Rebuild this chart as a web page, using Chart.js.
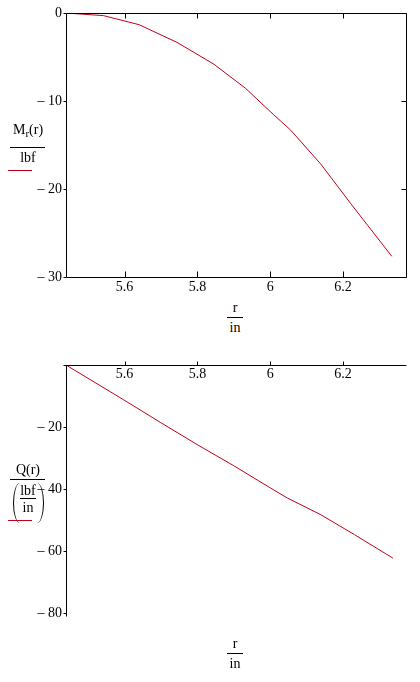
<!DOCTYPE html>
<html>
<head>
<meta charset="utf-8">
<script src="https://cdn.jsdelivr.net/npm/chart.js@4.4.1/dist/chart.umd.min.js"></script>
<style>
  html, body { margin: 0; padding: 0; background: #fff; }
  body { width: 420px; height: 682px; position: relative; overflow: hidden; font-family: "Liberation Serif", "DejaVu Serif", serif; font-size: 14px; color: #000; }
  canvas { position: absolute; left: 0; }
  #c1 { top: 0; }
  #c2 { top: 340px; }
  .bar { position: absolute; height: 1px; background: #000; }
  .red { position: absolute; height: 1px; background: #c0001a; }
  .t { position: absolute; white-space: nowrap; line-height: 1; }
  .pl { position: absolute; border-left: 1px solid #000; border-radius: 7px 0 0 7px / 20px 0 0 20px; }
  .pr { position: absolute; border-right: 1px solid #000; border-radius: 0 7px 7px 0 / 0 20px 20px 0; }
</style>
</head>
<body>
<canvas id="c1" width="420" height="300"></canvas>
<canvas id="c2" width="420" height="342"></canvas>

<!-- top y-axis title: Mr(r) / lbf -->
<div class="t" style="left:7px;top:123px;width:42px;text-align:center;">M<sub style="font-size:11px;vertical-align:-3px;line-height:0;">r</sub>(r)</div>
<div class="bar" style="left:10px;top:147px;width:35px;"></div>
<div class="t" style="left:7px;top:151px;width:42px;text-align:center;">lbf</div>
<div class="red" style="left:8px;top:170px;width:24px;"></div>

<!-- top x-axis title: r / in -->
<div class="t" style="left:225px;top:301px;width:20px;text-align:center;">r</div>
<div class="bar" style="left:227px;top:317px;width:16px;"></div>
<div class="t" style="left:225px;top:321px;width:20px;text-align:center;">in</div>

<!-- bottom y-axis title: Q(r) / (lbf/in) -->
<div class="t" style="left:7px;top:463px;width:42px;text-align:center;">Q(r)</div>
<div class="bar" style="left:10px;top:479px;width:35px;"></div>
<div class="pl" style="left:13px;top:483px;width:6px;height:40px;"></div>
<div class="pr" style="left:37px;top:483px;width:6px;height:40px;"></div>
<div class="t" style="left:18px;top:484px;width:20px;text-align:center;">lbf</div>
<div class="bar" style="left:20px;top:498px;width:16px;"></div>
<div class="t" style="left:18px;top:501px;width:20px;text-align:center;">in</div>
<div class="red" style="left:8px;top:520px;width:24px;"></div>

<!-- bottom x-axis title: r / in -->
<div class="t" style="left:225px;top:637px;width:20px;text-align:center;">r</div>
<div class="bar" style="left:227px;top:653px;width:16px;"></div>
<div class="t" style="left:225px;top:657px;width:20px;text-align:center;">in</div>

<script>
// ---- data ----
const rMoment = [5.439, 5.542, 5.640, 5.744, 5.845, 5.932, 6.010, 6.056, 6.139, 6.221, 6.334];
const moment  = [0, -0.3, -1.33, -3.34, -5.81, -8.55, -11.58, -13.3, -17.17, -21.65, -27.65];

const rShear  = [5.439, 5.597, 5.698, 5.804, 5.900, 6.001, 6.047, 6.139, 6.231, 6.337];
const shear   = [0, -11.2, -18.5, -26.0, -32.5, -39.7, -42.9, -48.3, -54.7, -62.3];

const xTicks = [5.6, 5.8, 6, 6.2];
const yTicksMoment = [0, -10, -20, -30];
const yTicksShear = [-20, -40, -60, -80];

// ---- helpers ----
const FONT = { family: '"Liberation Serif", "DejaVu Serif", serif', size: 14 };
const LINE_COLOR = '#c0001a';

function fmt(v) {
  if (v === 0) return '0';
  const s = String(Math.round(Math.abs(v) * 10) / 10);
  return v < 0 ? '\u2013 ' + s : s;
}

const framePlugin = {
  id: 'mathcadFrame',
  afterDraw(chart, args, opts) {
    const ctx = chart.ctx;
    const a = chart.chartArea;
    const xs = chart.scales.x, ys = chart.scales.y;
    ctx.save();
    ctx.strokeStyle = '#000';
    ctx.lineWidth = 1;
    ctx.beginPath();
    const px = v => Math.round(v) + 0.5;
    if (opts.mode === 'box') {
      const L = px(a.left), R = px(a.right), T = px(a.top), B = px(a.bottom);
      ctx.rect(L, T, R - L, B - T);
      xs.ticks.forEach(t => {
        const x = px(xs.getPixelForValue(t.value));
        ctx.moveTo(x, B); ctx.lineTo(x, B - 6);
        ctx.moveTo(x, T); ctx.lineTo(x, T + 5);
      });
      ys.ticks.forEach(t => {
        const y = px(ys.getPixelForValue(t.value));
        ctx.moveTo(L - 3, y); ctx.lineTo(L, y);
        ctx.moveTo(R, y); ctx.lineTo(R - 5, y);
      });
    } else {
      const L = px(a.left), R = px(a.right);
      const Y0 = px(ys.getPixelForValue(0));
      ctx.moveTo(L - 3, Y0); ctx.lineTo(R, Y0);
      ctx.moveTo(L, Y0); ctx.lineTo(L, px(a.bottom) + 3);
      xs.ticks.forEach(t => {
        const x = px(xs.getPixelForValue(t.value));
        ctx.moveTo(x, Y0); ctx.lineTo(x, Y0 - 4);
      });
      ys.ticks.forEach(t => {
        if (t.value === 0) return;
        const y = px(ys.getPixelForValue(t.value));
        ctx.moveTo(L - 3, y); ctx.lineTo(L, y);
      });
    }
    ctx.stroke();
    ctx.restore();
  }
};

function makePoints(xsArr, ysArr) {
  return xsArr.map((x, i) => ({ x: x, y: ysArr[i] }));
}

function baseX(extra, pad) {
  return Object.assign({
    type: 'linear',
    min: 5.439,
    max: 6.373,
    grid: { display: false, drawTicks: false },
    border: { display: false },
    ticks: { font: FONT, color: '#000', padding: pad, maxRotation: 0, callback: v => fmt(v) },
    afterBuildTicks: s => { s.ticks = xTicks.map(v => ({ value: v })); }
  }, extra);
}

// ---- chart 1: moment ----
new Chart(document.getElementById('c1'), {
  type: 'scatter',
  data: {
    datasets: [{
      data: makePoints(rMoment, moment),
      showLine: true,
      borderColor: LINE_COLOR,
      borderWidth: 1,
      pointRadius: 0,
      tension: 0
    }]
  },
  options: {
    responsive: false,
    animation: false,
    events: [],
    layout: { padding: { top: 13, right: 14, left: 0, bottom: 0 } },
    plugins: { legend: { display: false }, tooltip: { enabled: false }, mathcadFrame: { mode: 'box' } },
    scales: {
      x: baseX({ position: 'bottom', afterFit: s => { s.height = 23; } }, 2),
      y: {
        type: 'linear',
        min: -30, max: 0,
        grid: { display: false, drawTicks: false },
        border: { display: false },
        ticks: { font: FONT, color: '#000', padding: 4, callback: v => fmt(v) },
        afterBuildTicks: s => { s.ticks = yTicksMoment.map(v => ({ value: v })); },
        afterFit: s => { s.width = 66; }
      }
    }
  },
  plugins: [framePlugin]
});

// ---- chart 2: shear ----
new Chart(document.getElementById('c2'), {
  type: 'scatter',
  data: {
    datasets: [{
      data: makePoints(rShear, shear),
      showLine: true,
      borderColor: LINE_COLOR,
      borderWidth: 1,
      pointRadius: 0,
      tension: 0
    }]
  },
  options: {
    responsive: false,
    animation: false,
    events: [],
    layout: { padding: { top: 25, right: 14, left: 0, bottom: 69 } },
    plugins: { legend: { display: false }, tooltip: { enabled: false }, mathcadFrame: { mode: 'axes' } },
    scales: {
      x: baseX({ position: { y: 0 } }, 1),
      y: {
        type: 'linear',
        min: -80, max: 0,
        grid: { display: false, drawTicks: false },
        border: { display: false },
        ticks: { font: FONT, color: '#000', padding: 4, callback: v => fmt(v) },
        afterBuildTicks: s => { s.ticks = yTicksShear.map(v => ({ value: v })); },
        afterFit: s => { s.width = 66; }
      }
    }
  },
  plugins: [framePlugin]
});
</script>
</body>
</html>
